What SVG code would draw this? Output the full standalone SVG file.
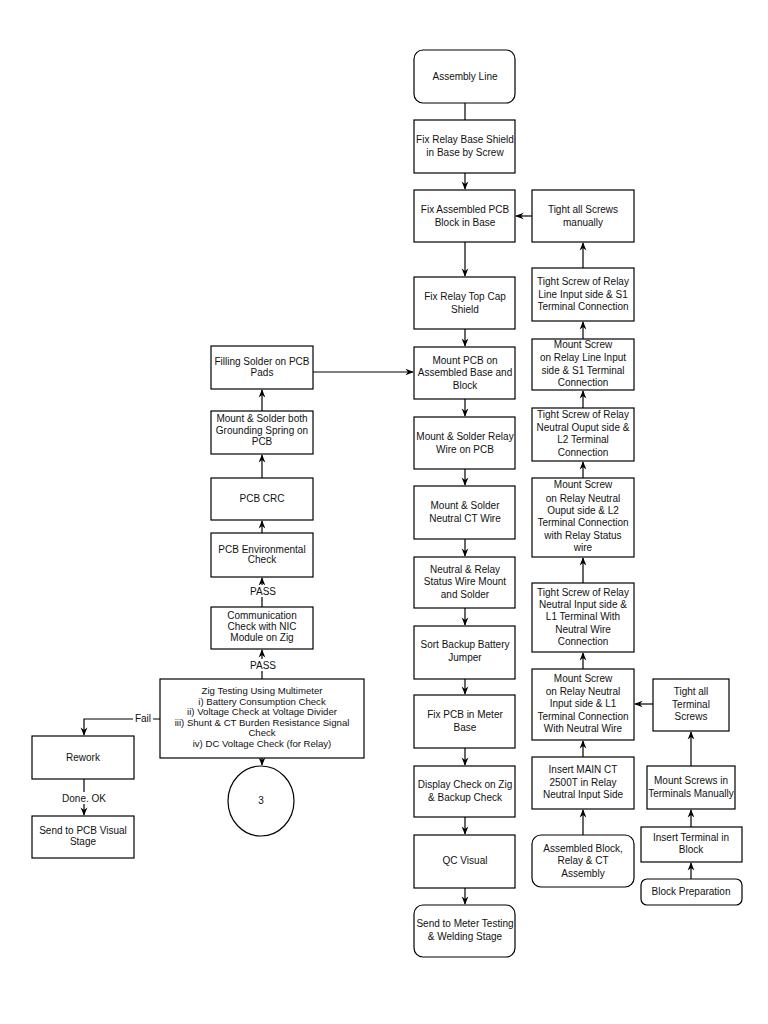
<svg xmlns="http://www.w3.org/2000/svg" width="768" height="1024" viewBox="0 0 768 1024">
<style>
rect{fill:#fff;stroke:#000;stroke-width:1.2}
ellipse{fill:#fff;stroke:#000;stroke-width:1.2}
text{font-family:"Liberation Sans",Arial,sans-serif;font-size:10px;fill:#111;text-anchor:middle}
.s{font-size:9.6px}
.c path{fill:none;stroke:#000;stroke-width:1.2}
.lb{fill:#fff}
</style>
<defs><marker id="a" viewBox="0 0 10 10" refX="9" refY="5" markerWidth="7" markerHeight="7" orient="auto"><path d="M0,1 L10,5 L0,9 L3,5Z" fill="#000"/></marker></defs>
<rect x="0" y="0" width="768" height="1024" style="stroke:none"/>
<g class="c">
<path d="M465,103V120"/>
<path d="M465,173V189" marker-end="url(#a)"/>
<path d="M465,242V276" marker-end="url(#a)"/>
<path d="M465,329V346" marker-end="url(#a)"/>
<path d="M465,399V416" marker-end="url(#a)"/>
<path d="M465,469V485" marker-end="url(#a)"/>
<path d="M465,539V556" marker-end="url(#a)"/>
<path d="M465,608V625" marker-end="url(#a)"/>
<path d="M465,679V694" marker-end="url(#a)"/>
<path d="M465,748V765" marker-end="url(#a)"/>
<path d="M465,817V834" marker-end="url(#a)"/>
<path d="M465,888V904" marker-end="url(#a)"/>
<path d="M313,372H413" marker-end="url(#a)"/>
<path d="M532,216H516" marker-end="url(#a)"/>
<path d="M583,268V243" marker-end="url(#a)"/>
<path d="M583,339V322" marker-end="url(#a)"/>
<path d="M583,408V391" marker-end="url(#a)"/>
<path d="M583,478V462" marker-end="url(#a)"/>
<path d="M583,583V558" marker-end="url(#a)"/>
<path d="M583,669V653" marker-end="url(#a)"/>
<path d="M583,757V741" marker-end="url(#a)"/>
<path d="M583,835V810" marker-end="url(#a)"/>
<path d="M653,704H635" marker-end="url(#a)"/>
<path d="M691,766V732" marker-end="url(#a)"/>
<path d="M691,827V810" marker-end="url(#a)"/>
<path d="M691,879V863" marker-end="url(#a)"/>
<path d="M262,411V390" marker-end="url(#a)"/>
<path d="M262,478V455" marker-end="url(#a)"/>
<path d="M262,533V521" marker-end="url(#a)"/>
<path d="M262,607V578" marker-end="url(#a)"/>
<path d="M262,679V650" marker-end="url(#a)"/>
<path d="M262,758V765" marker-end="url(#a)"/>
<path d="M160,719H84V735" marker-end="url(#a)"/>
<path d="M84,779V815" marker-end="url(#a)"/>
<rect class="lb" x="248" y="585" width="28" height="12" style="stroke:none"/>
<text x="263" y="595">PASS</text>
<rect class="lb" x="248" y="659" width="28" height="12" style="stroke:none"/>
<text x="263" y="669">PASS</text>
<rect class="lb" x="133" y="713" width="20" height="12" style="stroke:none"/>
<text x="143" y="722">Fail</text>
<rect class="lb" x="58" y="792" width="52" height="12" style="stroke:none"/>
<text x="84" y="802">Done. OK</text>
</g>
<g id="n1"><rect x="414" y="50" width="101" height="53" rx="9"/><text x="465" y="80">Assembly Line</text></g>
<g id="n2"><rect x="414" y="120" width="101" height="53"/><text x="465" y="143">Fix Relay Base Shield</text><text x="465" y="156">in Base by Screw</text></g>
<g id="n3"><rect x="414" y="190" width="101" height="52"/><text x="465" y="213">Fix Assembled PCB</text><text x="465" y="226">Block in Base</text></g>
<g id="n4"><rect x="414" y="277" width="101" height="52"/><text x="465" y="300">Fix Relay Top Cap</text><text x="465" y="313">Shield</text></g>
<g id="n5"><rect x="414" y="347" width="101" height="52"/><text x="465" y="364">Mount PCB on</text><text x="465" y="376">Assembled Base and</text><text x="465" y="389">Block</text></g>
<g id="n6"><rect x="414" y="417" width="101" height="52"/><text x="465" y="440">Mount &amp; Solder Relay</text><text x="465" y="453">Wire on PCB</text></g>
<g id="n7"><rect x="414" y="486" width="101" height="53"/><text x="465" y="509">Mount &amp; Solder</text><text x="465" y="522">Neutral CT Wire</text></g>
<g id="n8"><rect x="414" y="557" width="101" height="51"/><text x="465" y="573">Neutral &amp; Relay</text><text x="465" y="585">Status Wire Mount</text><text x="465" y="598">and Solder</text></g>
<g id="n9"><rect x="414" y="626" width="101" height="53"/><text x="465" y="648">Sort Backup Battery</text><text x="465" y="661">Jumper</text></g>
<g id="n10"><rect x="414" y="695" width="101" height="53"/><text x="465" y="718">Fix PCB in Meter</text><text x="465" y="731">Base</text></g>
<g id="n11"><rect x="414" y="766" width="101" height="51"/><text x="465" y="788">Display Check on Zig</text><text x="465" y="801">&amp; Backup Check</text></g>
<g id="n12"><rect x="414" y="835" width="101" height="53"/><text x="465" y="864">QC Visual</text></g>
<g id="n13"><rect x="414" y="905" width="101" height="52" rx="9"/><text x="465" y="927">Send to Meter Testing</text><text x="465" y="940">&amp; Welding Stage</text></g>
<g id="r1"><rect x="532" y="190" width="102" height="52"/><text x="583" y="213">Tight all Screws</text><text x="583" y="226">manually</text></g>
<g id="r2"><rect x="532" y="268" width="102" height="53"/><text x="583" y="285">Tight Screw of Relay</text><text x="583" y="298">Line Input side &amp; S1</text><text x="583" y="310">Terminal Connection</text></g>
<g id="r3"><rect x="532" y="339" width="102" height="51"/><text x="583" y="348">Mount Screw</text><text x="583" y="361">on Relay Line Input</text><text x="583" y="374">side &amp; S1 Terminal</text><text x="583" y="386">Connection</text></g>
<g id="r4"><rect x="532" y="408" width="102" height="53"/><text x="583" y="418">Tight Screw of Relay</text><text x="583" y="431">Neutral Ouput side &amp;</text><text x="583" y="443">L2 Terminal</text><text x="583" y="456">Connection</text></g>
<g id="r5"><rect x="532" y="478" width="102" height="79"/><text x="583" y="488">Mount Screw</text><text x="583" y="502">on Relay Neutral</text><text x="583" y="514">Ouput side &amp; L2</text><text x="583" y="526">Terminal Connection</text><text x="583" y="539">with Relay Status</text><text x="583" y="551">wire</text></g>
<g id="r6"><rect x="532" y="583" width="102" height="69"/><text x="583" y="596">Tight Screw of Relay</text><text x="583" y="608">Neutral Input side &amp;</text><text x="583" y="620">L1 Terminal With</text><text x="583" y="633">Neutral Wire</text><text x="583" y="645">Connection</text></g>
<g id="r7"><rect x="532" y="669" width="102" height="71"/><text x="583" y="682">Mount Screw</text><text x="583" y="695">on Relay Neutral</text><text x="583" y="707">Input side &amp; L1</text><text x="583" y="720">Terminal Connection</text><text x="583" y="732">With Neutral Wire</text></g>
<g id="r8"><rect x="532" y="757" width="102" height="52"/><text x="583" y="773">Insert MAIN CT</text><text x="583" y="786">2500T in Relay</text><text x="583" y="798">Neutral Input Side</text></g>
<g id="r9"><rect x="532" y="835" width="102" height="52" rx="9"/><text x="583" y="852">Assembled Block,</text><text x="583" y="864">Relay &amp; CT</text><text x="583" y="877">Assembly</text></g>
<g id="f1"><rect x="653" y="679" width="76" height="52"/><text x="691" y="695">Tight all</text><text x="691" y="708">Terminal</text><text x="691" y="720">Screws</text></g>
<g id="f2"><rect x="647" y="766" width="88" height="43"/><text x="691" y="784">Mount Screws in</text><text x="691" y="797">Terminals Manually</text></g>
<g id="f3"><rect x="641" y="827" width="101" height="35"/><text x="691" y="841">Insert Terminal in</text><text x="691" y="853">Block</text></g>
<g id="f4"><rect x="641" y="879" width="101" height="26" rx="6"/><text x="691" y="895">Block Preparation</text></g>
<g id="l1"><rect x="211" y="346" width="102" height="43"/><text x="262" y="365">Filling Solder on PCB</text><text x="262" y="376">Pads</text></g>
<g id="l2"><rect x="211" y="411" width="102" height="43"/><text x="262" y="422">Mount &amp; Solder both</text><text x="262" y="434">Grounding Spring on</text><text x="262" y="445">PCB</text></g>
<g id="l3"><rect x="211" y="478" width="102" height="42"/><text x="262" y="502">PCB CRC</text></g>
<g id="l4"><rect x="211" y="533" width="102" height="44"/><text x="262" y="553">PCB Environmental</text><text x="262" y="563">Check</text></g>
<g id="l5"><rect x="211" y="607" width="102" height="42"/><text x="262" y="619">Communication</text><text x="262" y="630">Check with NIC</text><text x="262" y="641">Module on Zig</text></g>
<g id="l6"><rect x="160" y="679" width="204" height="79"/><text class="s" x="262" y="694">Zig Testing Using Multimeter</text><text class="s" x="262" y="705">i) Battery Consumption Check</text><text class="s" x="262" y="715">ii) Voltage Check at Voltage Divider</text><text class="s" x="262" y="726">iii) Shunt &amp; CT Burden Resistance Signal</text><text class="s" x="262" y="736">Check</text><text class="s" x="262" y="747">iv) DC Voltage Check (for Relay)</text></g>
<g id="l7"><rect x="32" y="736" width="102" height="43"/><text x="83" y="761">Rework</text></g>
<g id="l8"><rect x="32" y="816" width="102" height="42"/><text x="83" y="834">Send to PCB Visual</text><text x="83" y="845">Stage</text></g>
<g id="l9"><ellipse cx="261" cy="801" rx="33" ry="35"/><text x="261" y="804">3</text></g>
</svg>
